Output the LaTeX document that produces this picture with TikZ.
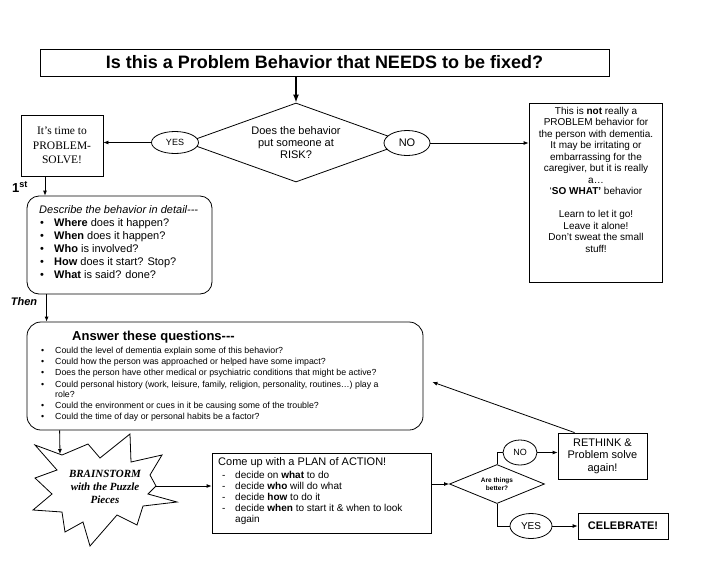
\documentclass[tikz,border=0pt]{standalone}
\usepackage{fontspec}
\setmainfont{Liberation Sans}
\newfontfamily\serifx{Liberation Serif}
\usetikzlibrary{shapes.geometric,arrows.meta}
\newcommand\fsz[2]{\fontsize{#1}{#2}\selectfont}
\newcommand\bul{\makebox[15pt][l]{\hspace{1pt}\textbullet}}
\newcommand\dsh{\makebox[13pt][l]{-}}
\newcommand\tdash{-{}-{}-}
\begin{document}
\begin{tikzpicture}[x=1pt,y=-1pt,
  box/.style={draw,line width=0.8pt,inner sep=0pt},
  arr/.style={-{Latex[length=5pt,width=4pt]},line width=0.8pt},
  ell/.style={draw,ellipse,fill=white,line width=0.8pt,inner sep=0pt},
  txt/.style={inner sep=0pt,align=left,anchor=north west}]
\useasboundingbox (0,0) rectangle (728,563);

% title
\node[box,minimum width=569pt,minimum height=27pt,font=\fsz{18}{20}\bfseries] (title) at (324.5,62.5) {Is this a Problem Behavior that NEEDS to be fixed?};

% risk diamond
\node[box,diamond,minimum width=220pt,minimum height=79pt,aspect=2.78,align=center,font=\fsz{11}{12}] (risk) at (296,142.5) {Does the behavior\\put someone at\\RISK?};
\node[ell,minimum width=47pt,minimum height=22pt,font=\fsz{9}{10}] (yes) at (175,142.5) {YES};
\node[ell,minimum width=46pt,minimum height=25pt,font=\fsz{11}{12}] (no) at (407,143) {NO};

% problem-solve box
\node[box,minimum width=82pt,minimum height=61pt,align=center,font=\serifx\fsz{11.5}{14.5}] (prob) at (62,145.5) {It’s time to\\PROBLEM-\\SOLVE!};

% not-a-problem box
\node[box,minimum width=133pt,minimum height=179pt] (nt) at (595.5,192.5) {};
\node[inner sep=0pt,anchor=north,align=center,font=\fsz{10}{11.5}] (ntt) at (596,107) {This is \textbf{not} really a\\PROBLEM behavior for\\the person with dementia.\\It may be irritating or\\embarrassing for the\\caregiver, but it is really\\a…\\‘\textbf{SO WHAT’} behavior\\[11.5pt]Learn to let it go!\\Leave it alone!\\Don’t sweat the small\\stuff!};

% 1st
\node[inner sep=0pt,font=\fsz{13}{14}\bfseries] (first) at (20,187) {1\textsuperscript{st}};

% describe box
\node[box,rounded corners=12pt,minimum width=185pt,minimum height=98pt] (desc) at (119.5,245) {};
\node[txt,font=\fsz{11}{13}] (desct) at (39,205) {{\itshape Describe the behavior in detail\tdash}\\
\bul\textbf{Where} does it happen?\\
\bul\textbf{When} does it happen?\\
\bul\textbf{Who} is involved?\\
\bul\textbf{How} does it start? Stop?\\
\bul\textbf{What} is said? done?};

% Then
\node[inner sep=0pt,font=\fsz{11}{12}\bfseries\itshape] (then) at (24,302) {Then};

% answer box
\node[box,rounded corners=14pt,minimum width=396pt,minimum height=108pt] (ans) at (225,376) {};
\node[inner sep=0pt,anchor=west,font=\fsz{13}{14}\bfseries] (anst) at (72,337) {Answer these questions\tdash};
\node[txt,font=\fsz{8.8}{10}] (ansl) at (40,347) {\bul Could the level of dementia explain some of this behavior?\\[1.2pt]
\bul Could how the person was approached or helped have some impact?\\[1.2pt]
\bul Does the person have other medical or psychiatric conditions that might be active?\\[1.2pt]
\bul Could personal history (work, leisure, family, religion, personality, routines…) play a\\
\makebox[15pt]{}role?\\[1.2pt]
\bul Could the environment or cues in it be causing some of the trouble?\\[1.2pt]
\bul Could the time of day or personal habits be a factor?};

% brainstorm star
\draw[line width=0.8pt,fill=white] (35,445) -- (62,455) -- (88,444) -- (100,458) -- (130,434) -- (131,462) -- (162,455) -- (150,475) -- (156,486) -- (148,494) -- (177,502) -- (143,506) -- (137,525) -- (117,515) -- (90,546) -- (83,522) -- (65,532) -- (62,512) -- (33,510) -- (52,494) -- (35,478) -- (57,470) -- cycle;
\coordinate (startop) at (60,454);
\coordinate (starright) at (156,486);
\node[inner sep=0pt,align=center,font=\serifx\fsz{11}{13}\bfseries\itshape] (brain) at (105,487) {BRAINSTORM\\with the Puzzle\\Pieces};

% plan box
\node[box,minimum width=219pt,minimum height=80pt] (plan) at (321.5,493) {};
\node[inner sep=0pt,anchor=west,font=\fsz{11}{12}] (plant) at (218,463) {Come up with a PLAN of ACTION!};
\node[txt,font=\fsz{10}{11}] (planl) at (222,471) {\dsh decide on \textbf{what} to do\\
\dsh decide \textbf{who} will do what\\
\dsh decide \textbf{how} to do it\\
\dsh decide \textbf{when} to start it \& when to look\\
\makebox[13pt]{}again};

% better diamond
\node[box,diamond,minimum width=95pt,minimum height=39pt,aspect=2.4,align=center,font=\fsz{6.5}{8}\bfseries] (better) at (497,484) {Are things\\better?};
\node[ell,minimum width=34pt,minimum height=25pt,font=\fsz{9}{10}] (no2) at (520,452.5) {NO};
\node[ell,minimum width=42pt,minimum height=25pt,font=\fsz{10}{11}] (yes2) at (531,526) {YES};
\node[box,minimum width=89pt,minimum height=46pt,align=center,font=\fsz{11}{12.5}] (rethink) at (602.5,456) {RETHINK \&\\Problem solve\\again!};
\node[box,minimum width=90pt,minimum height=26pt,font=\fsz{11}{12}\bfseries] (celeb) at (623,526) {CELEBRATE!};

% connectors
\draw[-{Latex[length=8pt,width=6pt]},line width=1.6pt] (risk.north |- title.south) -- (risk.north);
\draw[arr] (yes.west) -- (yes.west -| prob.east);
\draw[arr] (no.east) -- (no.east -| nt.west);
\draw[arr] ([xshift=-17pt]prob.south) -- ([xshift=-17pt]prob.south |- desc.north);
\draw[arr] ([xshift=20pt]desc.south west) -- ([xshift=20pt]desc.south west |- ans.north);
\draw[arr] ([xshift=33pt]ans.south west) -- (startop);
\draw[arr] (starright) -- (starright -| plan.west);
\draw[arr] (plan.east |- better.west) -- (better.west);
\draw[line width=0.8pt] (better.north) |- (no2.west);
\draw[line width=0.8pt] (better.south) |- (yes2.west);
\draw[arr] (no2.east) -- (no2.east -| rethink.west);
\draw[arr] (yes2.east) -- (yes2.east -| celeb.west);
\draw[arr] ([xshift=17pt]rethink.north west) -- ([xshift=9pt,yshift=-6pt]ans.east);
\end{tikzpicture}
\end{document}
